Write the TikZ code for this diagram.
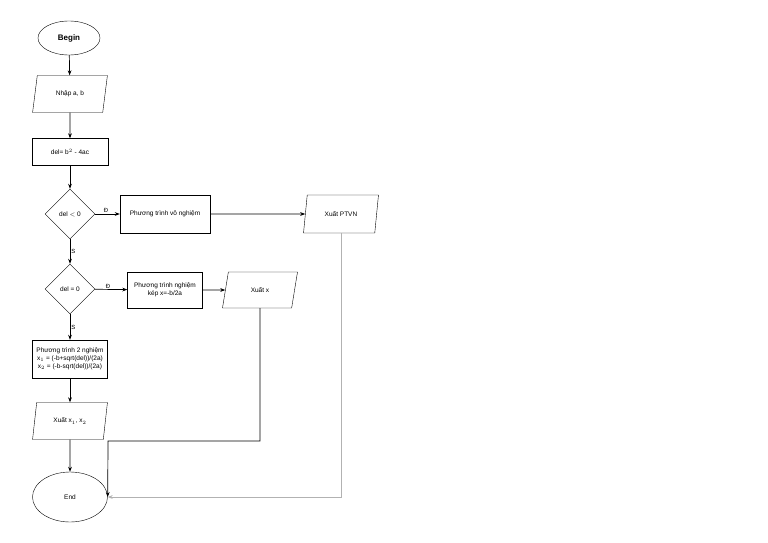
\documentclass[tikz,border=0pt]{standalone}
\usepackage{fontspec}
\setmainfont{Liberation Sans}
\usetikzlibrary{shapes.geometric,arrows.meta}
\begin{document}
\begin{tikzpicture}[x=1pt,y=-1pt,
  every node/.style={font=\fontsize{6.5}{8}\selectfont,align=center,inner sep=1pt},
  proc/.style={draw,minimum width=75pt,minimum height=28pt},
  io/.style={draw,trapezium,trapezium left angle=75,trapezium right angle=105,minimum width=60pt,minimum height=37pt,trapezium stretches=true},
  dec/.style={draw,diamond,minimum width=50pt,minimum height=50pt,inner sep=0pt},
  term/.style={draw,ellipse},
  arr/.style={-{Stealth[length=5pt]},line width=0.7pt},
  lbl/.style={font=\fontsize{6}{7}\selectfont}]
\useasboundingbox (0,0) rectangle (768,543);
\node[term,minimum width=62pt,minimum height=34pt,font=\fontsize{8}{9}\selectfont\bfseries] (b) at (69,38) {Begin};
\node[io,minimum width=75pt] (in) at (70,94) {Nhập a, b};
\node[proc,minimum height=27pt,minimum width=76pt] (d) at (70,152) {del= b$^2$ - 4ac};
\node[dec] (d1) at (70,214) {del $<$ 0};
\node[proc,minimum width=90pt,minimum height=38pt] (vn) at (165,214) {Phương trình vô nghiệm};
\node[io,minimum width=75pt,minimum height=38pt] (ptvn) at (341,214) {Xuất PTVN};
\node[dec] (d2) at (70,289) {del = 0};
\node[proc,minimum width=75pt,minimum height=36pt] (kep) at (165,290) {Phương trình nghiệm\\kép x=-b/2a};
\node[io,minimum width=75pt,minimum height=36pt] (xx) at (260,290) {Xuất x};
\node[proc,minimum width=75pt,minimum height=38pt] (two) at (70,359) {Phương trình 2 nghiệm\\x$_1$ = (-b+sqrt(del))/(2a)\\x$_2$ = (-b-sqrt(del))/(2a)};
\node[io,minimum width=75pt,minimum height=37pt] (out) at (70,421) {Xuất x$_1$, x$_2$};
\node[term,minimum width=75pt,minimum height=50pt] (e) at (70,497) {End};
\draw[arr] (b) -- (in);
\draw[arr] (in) -- (d);
\draw[arr] (d) -- (d1);
\draw[arr] (d1) -- node[lbl,pos=0.3,above right]{Đ} (vn);
\draw[arr] (vn) -- (ptvn);
\draw[arr] (d1) -- node[lbl,right]{S} (d2);
\draw[arr] (d2) -- node[lbl,pos=0.3,above right]{Đ} (kep);
\draw[arr] (kep) -- (xx);
\draw[arr] (d2) -- node[lbl,right]{S} (two);
\draw[arr] (two) -- (out);
\draw[arr] (out) -- (e);
\draw[arr] (xx.south) |- (108,441) -- (e.east);
\draw[arr,gray!60] (ptvn.south) |- (e.east);
\end{tikzpicture}
\end{document}
